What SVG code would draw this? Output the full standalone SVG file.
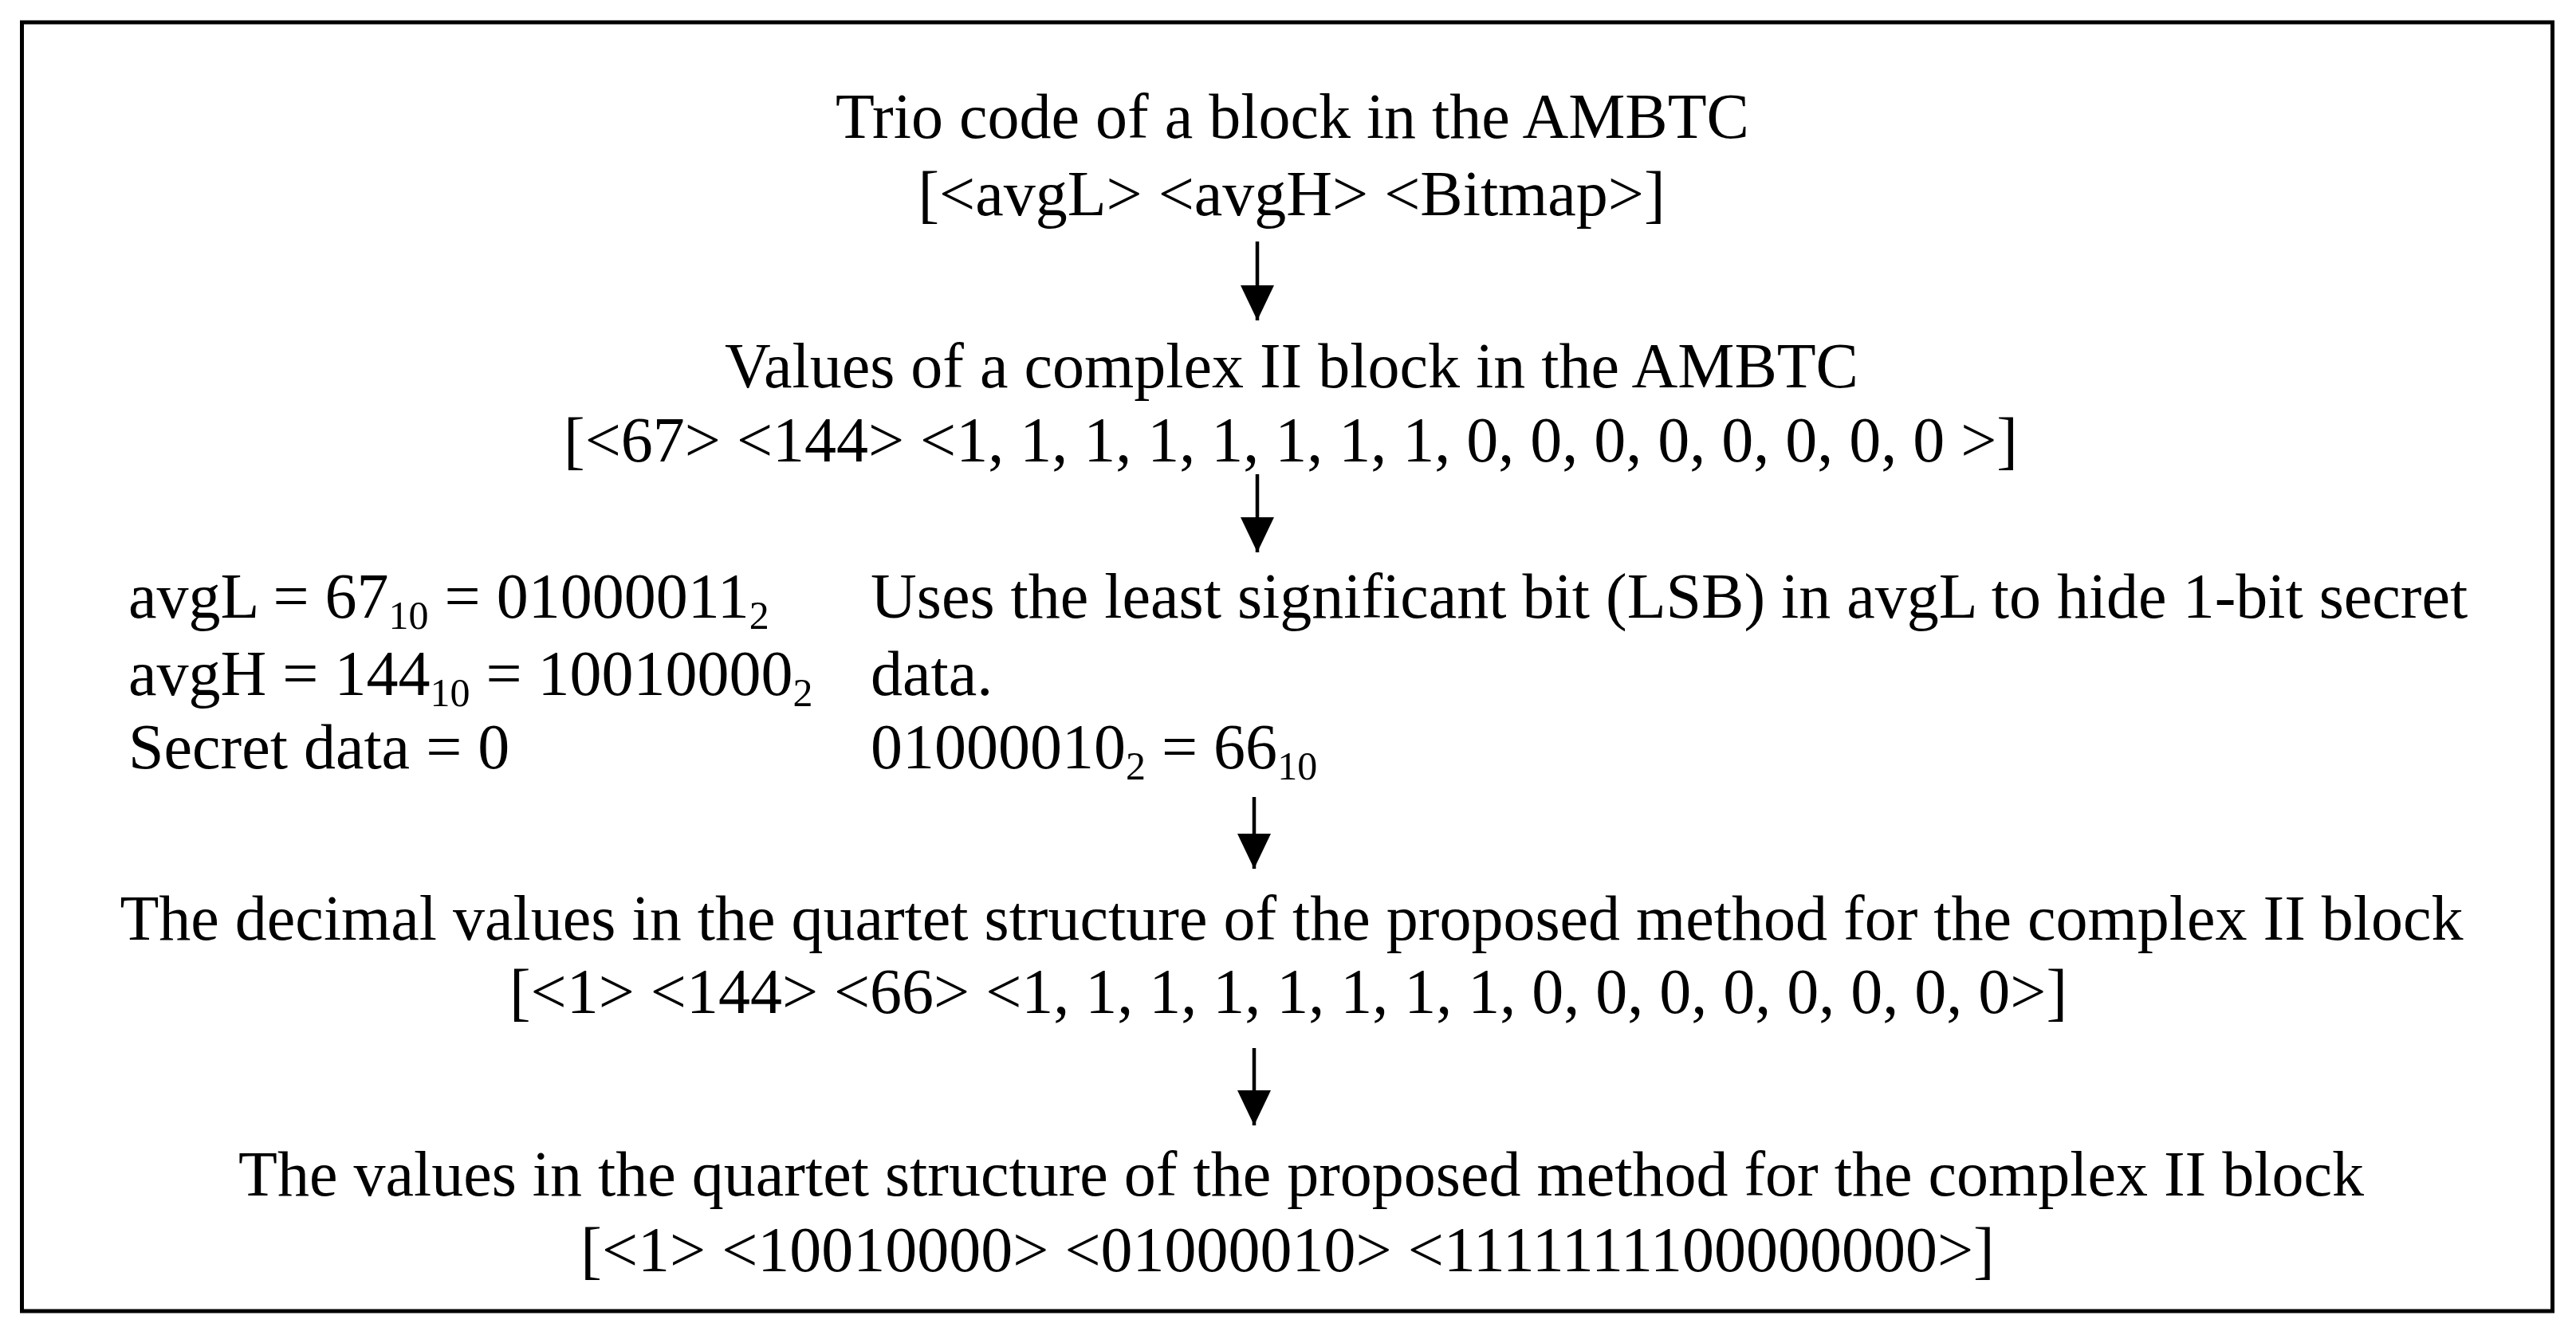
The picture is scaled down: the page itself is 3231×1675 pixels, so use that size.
<svg xmlns="http://www.w3.org/2000/svg" width="3231" height="1675" viewBox="0 0 3231 1675">
<style>
text{font-family:"Liberation Serif","Times New Roman",serif;font-size:80px;fill:#000}
.c{text-anchor:middle}
.sub{font-size:50px}
.conn line{stroke:#000;stroke-width:4.5}
</style>
<defs>
<marker id="ah" markerUnits="userSpaceOnUse" markerWidth="44" markerHeight="46" refX="44" refY="21" orient="auto">
<path d="M0,0 L44,21 L0,42 Z" fill="#000"/>
</marker>
</defs>
<rect x="27.5" y="28" width="3174" height="1617" fill="#fff" stroke="#000" stroke-width="5"/>
<g id="n1">
<text class="c" x="1621" y="173">Trio code of a block in the AMBTC</text>
<text class="c" x="1620" y="270">[&lt;avgL&gt; &lt;avgH&gt; &lt;Bitmap&gt;]</text>
</g>
<g id="n2">
<text class="c" x="1620" y="486">Values of a complex II block in the AMBTC</text>
<text class="c" x="1619" y="579">[&lt;67&gt; &lt;144&gt; &lt;1, 1, 1, 1, 1, 1, 1, 1, 0, 0, 0, 0, 0, 0, 0, 0 &gt;]</text>
</g>
<g id="n3">
<text x="161" y="775">avgL = 67<tspan class="sub" dy="14">10</tspan><tspan dy="-14"> = 01000011</tspan><tspan class="sub" dy="14">2</tspan></text>
<text x="161" y="872">avgH = 144<tspan class="sub" dy="14">10</tspan><tspan dy="-14"> = 10010000</tspan><tspan class="sub" dy="14">2</tspan></text>
<text x="161" y="964">Secret data = 0</text>
</g>
<g id="n4">
<text x="1092" y="775">Uses the least significant bit (LSB) in avgL to hide 1-bit secret</text>
<text x="1092" y="872">data.</text>
<text x="1092" y="964">01000010<tspan class="sub" dy="14">2</tspan><tspan dy="-14"> = 66</tspan><tspan class="sub" dy="14">10</tspan></text>
</g>
<g id="n5">
<text class="c" x="1620" y="1179">The decimal values in the quartet structure of the proposed method for the complex II block</text>
<text class="c" x="1616" y="1271">[&lt;1&gt; &lt;144&gt; &lt;66&gt; &lt;1, 1, 1, 1, 1, 1, 1, 1, 0, 0, 0, 0, 0, 0, 0, 0&gt;]</text>
</g>
<g id="n6">
<text class="c" x="1632" y="1500">The values in the quartet structure of the proposed method for the complex II block</text>
<text class="c" x="1615" y="1595">[&lt;1&gt; &lt;10010000&gt; &lt;01000010&gt; &lt;1111111100000000&gt;]</text>
</g>
<g id="connectors" class="conn">
<line x1="1577" y1="303" x2="1577" y2="402" marker-end="url(#ah)"/>
<line x1="1577" y1="595" x2="1577" y2="693" marker-end="url(#ah)"/>
<line x1="1573" y1="1000" x2="1573" y2="1090" marker-end="url(#ah)"/>
<line x1="1573" y1="1315" x2="1573" y2="1412" marker-end="url(#ah)"/>
</g>
</svg>
